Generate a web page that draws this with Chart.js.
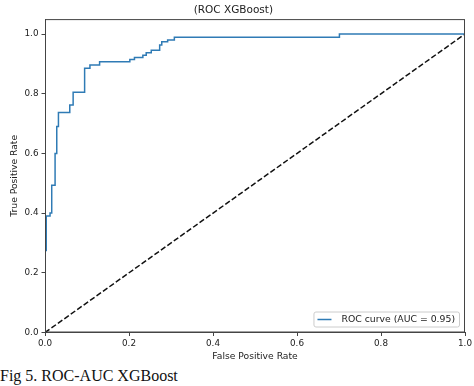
<!DOCTYPE html>
<html>
<head>
<meta charset="utf-8">
<script src="https://cdn.jsdelivr.net/npm/chart.js@4.4.1/dist/chart.umd.min.js"></script>
<style>
  body { margin: 0; background: #fff; }
  #wrap { position: relative; width: 474px; height: 386px; }
  #chart { position: absolute; left: 0; top: 0; }
  #caption {
    position: absolute; left: 0; top: 367px;
    font-family: "Liberation Serif", serif; font-size: 16px; line-height: 18px; color: #111;
  }
</style>
</head>
<body>
<div id="wrap">
  <canvas id="chart" width="474" height="362"></canvas>
  <div id="caption">Fig 5. ROC-AUC XGBoost</div>
</div>
<script>
// roc curve (corner points of the steps)
var fpr = [0, 0, 0.003, 0.003, 0.012, 0.012, 0.016, 0.016, 0.024, 0.024, 0.028, 0.028, 0.032, 0.032,
  0.059, 0.059, 0.067, 0.067, 0.093, 0.093, 0.095, 0.095, 0.107, 0.107, 0.130, 0.130,
  0.202, 0.202, 0.213, 0.213, 0.233, 0.233, 0.241, 0.241, 0.253, 0.253, 0.273, 0.273,
  0.278, 0.278, 0.292, 0.292, 0.308, 0.308, 0.701, 0.701, 1.0];
var tpr = [0, 0.275, 0.275, 0.39, 0.39, 0.40, 0.40, 0.493, 0.493, 0.60, 0.60, 0.69, 0.69, 0.737,
  0.737, 0.762, 0.762, 0.805, 0.805, 0.846, 0.846, 0.885, 0.885, 0.896, 0.896, 0.907,
  0.907, 0.915, 0.915, 0.921, 0.921, 0.929, 0.929, 0.937, 0.937, 0.946, 0.946, 0.963,
  0.963, 0.974, 0.974, 0.980, 0.980, 0.989, 0.989, 1.0, 1.0];
var diagX = [0, 1];
var diagY = [0, 1];
var xTicks = [0, 0.2, 0.4, 0.6, 0.8, 1.0];
var yTicks = [0, 0.2, 0.4, 0.6, 0.8, 1.0];
var rocLabel = 'ROC curve (AUC = 0.95)';

function pts(xs, ys) {
  var out = [];
  for (var i = 0; i < xs.length; i++) out.push({ x: xs[i], y: ys[i] });
  return out;
}

var fnt = 'DejaVu Sans';

// frame round the plot + the legend box in the lower right corner
var framePlugin = {
  id: 'frame',
  afterDraw: function (chart) {
    var ctx = chart.ctx, a = chart.chartArea;
    ctx.save();
    ctx.strokeStyle = '#444';
    ctx.lineWidth = 1;
    ctx.strokeRect(a.left + 0.5, a.top + 0.5, a.right - a.left - 1, a.bottom - a.top - 1);

    ctx.font = '9.3px "' + fnt + '"';
    var tw = ctx.measureText(rocLabel).width;
    var w = tw + 32, h = 15;
    var x = a.right - 6 - w, y = a.bottom - 6 - h;
    ctx.fillStyle = 'rgba(255,255,255,0.85)';
    ctx.strokeStyle = '#ccc';
    ctx.beginPath();
    ctx.roundRect(x + 0.5, y + 0.5, w, h, 2);
    ctx.fill();
    ctx.stroke();
    var ds = chart.data.datasets[0];
    ctx.strokeStyle = ds.borderColor;
    ctx.lineWidth = 1.5;
    ctx.beginPath();
    ctx.moveTo(x + 4, y + h / 2 + 0.5);
    ctx.lineTo(x + 18, y + h / 2 + 0.5);
    ctx.stroke();
    ctx.fillStyle = '#222';
    ctx.textBaseline = 'middle';
    ctx.fillText(rocLabel, x + 28, y + h / 2 + 0.5);
    ctx.restore();
  }
};

new Chart(document.getElementById('chart'), {
  type: 'scatter',
  data: {
    datasets: [
      {
        label: rocLabel,
        data: pts(fpr, tpr),
        showLine: true,
        borderColor: '#2f7bb5',
        borderWidth: 1.5,
        pointRadius: 0,
        fill: false
      },
      {
        label: 'chance',
        data: pts(diagX, diagY),
        showLine: true,
        borderColor: '#111',
        borderWidth: 1.5,
        borderDash: [5.5, 2.4],
        pointRadius: 0,
        fill: false
      }
    ]
  },
  options: {
    responsive: false,
    animation: false,
    layout: { padding: { left: 0, right: 7.3, top: 0, bottom: 0 } },
    plugins: {
      legend: { display: false },
      tooltip: { enabled: false },
      title: {
        display: true,
        text: '(ROC XGBoost)',
        color: '#222',
        font: { family: fnt, size: 10.5, weight: 'normal' },
        padding: { top: 4, bottom: 2.5 }
      }
    },
    scales: {
      x: {
        type: 'linear',
        min: 0,
        max: 1,
        afterBuildTicks: function (s) { s.ticks = xTicks.map(function (v) { return { value: v }; }); },
        afterFit: function (s) { s.height = 29.5; },
        grid: { drawOnChartArea: false, drawTicks: true, tickLength: 3.5, color: '#444' },
        border: { display: true, color: '#444', width: 1 },
        ticks: {
          color: '#222', padding: 2, maxRotation: 0,
          font: { family: fnt, size: 8.8 },
          callback: function (v) { return v.toFixed(1); }
        },
        title: {
          display: true, text: 'False Positive Rate', color: '#222',
          font: { family: fnt, size: 9.2 }, padding: { top: 0, bottom: 0 }
        }
      },
      y: {
        type: 'linear',
        min: 0,
        max: 1.05,
        afterBuildTicks: function (s) { s.ticks = yTicks.map(function (v) { return { value: v }; }); },
        afterFit: function (s) { s.width = 45; },
        grid: { drawOnChartArea: false, drawTicks: true, tickLength: 3.5, color: '#444' },
        border: { display: true, color: '#444', width: 1 },
        ticks: {
          color: '#222', padding: 3,
          font: { family: fnt, size: 8.8 },
          callback: function (v) { return v.toFixed(1); }
        },
        title: {
          display: true, text: 'True Positive Rate', color: '#222',
          font: { family: fnt, size: 9.2 }, padding: { top: 8.6, bottom: 0 }
        }
      }
    }
  },
  plugins: [framePlugin]
});
</script>
</body>
</html>
